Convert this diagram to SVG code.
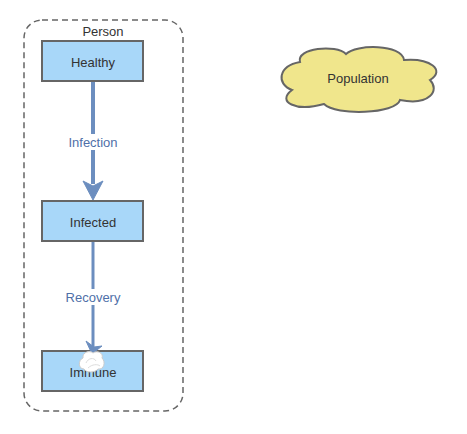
<svg xmlns="http://www.w3.org/2000/svg" width="467" height="434" viewBox="0 0 467 434">
<style>
text{font-family:"Comic Sans MS","Liberation Sans",sans-serif;font-size:13px;text-anchor:middle;dominant-baseline:central}
.box{fill:#a8d7f9;stroke:#666;stroke-width:2}
.lbl{fill:#333}
.elbl{fill:#4f6fa8}
.edge{stroke:#6c8ebf;fill:none}
</style>
<rect width="467" height="434" fill="#fff"/>
<g id="person">
<rect x="24" y="20" width="159" height="391" rx="18" fill="none" stroke="#666" stroke-width="1.5" stroke-dasharray="6 4"/>
<text x="103" y="31" class="lbl" font-size="12">Person</text>
</g>
<g id="population">
<path d="M300 62 C296 48 336 44 346 54 C356 44 402 44 404 60 C430 58 446 70 430 80 C440 90 430 106 400 100 C396 114 336 116 324 104 C296 112 276 102 292 90 C276 84 278 66 300 62 Z" fill="#f0e68c" stroke="#666" stroke-width="2"/>
<text x="358" y="78" class="lbl">Population</text>
</g>
<g id="connectors">
<g id="e-infection">
<line x1="93" y1="81" x2="93" y2="184" class="edge" stroke-width="4"/>
<polygon points="83,181 93,200 103,181 93,186" fill="#6c8ebf" stroke="#6c8ebf" stroke-width="1"/>
<rect x="59" y="134" width="68" height="16" fill="#fff"/>
<text x="93" y="142" class="elbl">Infection</text>
</g>
<g id="e-recovery">
<line x1="93" y1="241" x2="93" y2="348" class="edge" stroke-width="3"/>
<rect x="60" y="289" width="66" height="16" fill="#fff"/>
<text x="93" y="297" class="elbl">Recovery</text>
</g>
</g>
<g id="healthy">
<rect x="42" y="41" width="101" height="40" class="box"/>
<text x="93" y="62" class="lbl">Healthy</text>
</g>
<g id="infected">
<rect x="42" y="201" width="101" height="40" class="box"/>
<text x="93" y="222" class="lbl">Infected</text>
</g>
<g id="immune">
<rect x="42" y="351" width="101" height="40" class="box"/>
<text x="93" y="372" class="lbl">Immune</text>
</g>
<g id="recovery-head">
<polygon points="86,341 92,354 102,346 94,347" fill="#6c8ebf" stroke="#6c8ebf" stroke-width="1"/>
<path d="M83 358 C82 352 90 350 93 353 C97 350 104 353 102 358 C106 362 104 370 98 369 C95 373 86 373 84 369 C78 369 78 360 83 358 Z" fill="#fff" stroke="#ccc" stroke-width="1"/>
<path d="M86 363 C88 358 94 357 96 361 M88 368 C92 364 98 364 100 366" fill="none" stroke="#ddd" stroke-width="1"/>
</g>
</svg>
